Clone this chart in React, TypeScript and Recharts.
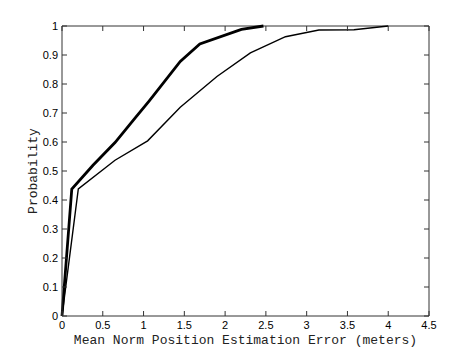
// CDF of mean norm position estimation error — two curves, MATLAB-style frame

import React from 'react';
import { LineChart, Line, XAxis, YAxis, ReferenceLine, Label } from 'recharts';

// ── data ──

const X_TICKS = [0, 0.5, 1, 1.5, 2, 2.5, 3, 3.5, 4, 4.5];
const Y_TICKS = [0, 0.1, 0.2, 0.3, 0.4, 0.5, 0.6, 0.7, 0.8, 0.9, 1];

const THICK_X = [0, 0.12, 0.38, 0.65, 0.88, 1.07, 1.45, 1.69, 2.2, 2.47];
const THICK_P = [0, 0.438, 0.52, 0.598, 0.677, 0.742, 0.878, 0.938, 0.988, 1.0];

const THIN_X = [0, 0.2, 0.65, 1.05, 1.45, 1.9, 2.31, 2.74, 3.15, 3.58, 4.0];
const THIN_P = [0, 0.438, 0.537, 0.604, 0.72, 0.826, 0.907, 0.963, 0.986, 0.987, 1.0];

const X_LABEL = 'Mean Norm Position Estimation Error (meters)';
const Y_LABEL = 'Probability';

// ── layout ──

const W = 474;
const H = 356;
const MARGIN = { top: 26, right: 45, bottom: 0, left: 0 };
const Y_AXIS_W = 62;
const X_AXIS_H = 40;
const PLOT_TOP = MARGIN.top;
const PLOT_BOTTOM = H - X_AXIS_H;
const PLOT_LEFT = Y_AXIS_W;
const PLOT_RIGHT = W - MARGIN.right;
const TICK_LEN = 5;
const FRAME = '#333';
const TICK_FONT = '"Liberation Sans", Arial, sans-serif';
const LABEL_FONT = '"Liberation Mono", "DejaVu Sans Mono", monospace';

const thick = THICK_X.map((x, i) => ({ x, p: THICK_P[i] }));
const thin = THIN_X.map((x, i) => ({ x, p: THIN_P[i] }));

const fmt = (v: number) => String(Math.round(v * 10) / 10);

// inward ticks on bottom + top, label under the bottom
function XTick(props: { x?: number; payload?: { value: number } }) {
  const { x, payload } = props;
  if (x === undefined || !payload) return null;
  return (
    <g>
      <line x1={x} x2={x} y1={PLOT_BOTTOM} y2={PLOT_BOTTOM - TICK_LEN} stroke={FRAME} />
      <line x1={x} x2={x} y1={PLOT_TOP} y2={PLOT_TOP + TICK_LEN} stroke={FRAME} />
      <text x={x} y={PLOT_BOTTOM + 13} textAnchor="middle" fontSize={11} fontFamily={TICK_FONT} fill="#000">
        {fmt(payload.value)}
      </text>
    </g>
  );
}

// inward ticks on left + right, label left of the axis
function YTick(props: { y?: number; payload?: { value: number } }) {
  const { y, payload } = props;
  if (y === undefined || !payload) return null;
  return (
    <g>
      <line x1={PLOT_LEFT} x2={PLOT_LEFT + TICK_LEN} y1={y} y2={y} stroke={FRAME} />
      <line x1={PLOT_RIGHT} x2={PLOT_RIGHT - TICK_LEN} y1={y} y2={y} stroke={FRAME} />
      <text x={PLOT_LEFT - 4} y={y + 4} textAnchor="end" fontSize={11} fontFamily={TICK_FONT} fill="#000">
        {fmt(payload.value)}
      </text>
    </g>
  );
}

export default function App() {
  return (
    <div style={{ position: 'absolute', left: 0, top: 0, width: W, height: H, background: '#fff' }}>
      <LineChart width={W} height={H} margin={MARGIN}>
        <XAxis
          type="number"
          dataKey="x"
          domain={[0, 4.5]}
          ticks={X_TICKS}
          height={X_AXIS_H}
          tickLine={false}
          axisLine={{ stroke: FRAME }}
          tick={<XTick />}
          interval={0}
        >
          <Label
            content={() => (
              <text x={(PLOT_LEFT + PLOT_RIGHT) / 2} y={344} textAnchor="middle" fontSize={13} fontFamily={LABEL_FONT} fill="#222">
                {X_LABEL}
              </text>
            )}
          />
        </XAxis>
        <YAxis
          type="number"
          domain={[0, 1]}
          ticks={Y_TICKS}
          width={Y_AXIS_W}
          tickLine={false}
          axisLine={{ stroke: FRAME }}
          tick={<YTick />}
          interval={0}
        >
          <Label
            content={() => (
              <text
                x={37}
                y={171}
                transform="rotate(-90 37 171)"
                textAnchor="middle"
                fontSize={13}
                fontFamily={LABEL_FONT}
                fill="#222"
              >
                {Y_LABEL}
              </text>
            )}
          />
        </YAxis>
        <ReferenceLine y={1} stroke={FRAME} />
        <ReferenceLine x={4.5} stroke={FRAME} />
        <Line data={thin} dataKey="p" stroke="#000" strokeWidth={1.4} dot={false} isAnimationActive={false} />
        <Line data={thick} dataKey="p" stroke="#000" strokeWidth={2.8} dot={false} isAnimationActive={false} />
      </LineChart>
    </div>
  );
}
